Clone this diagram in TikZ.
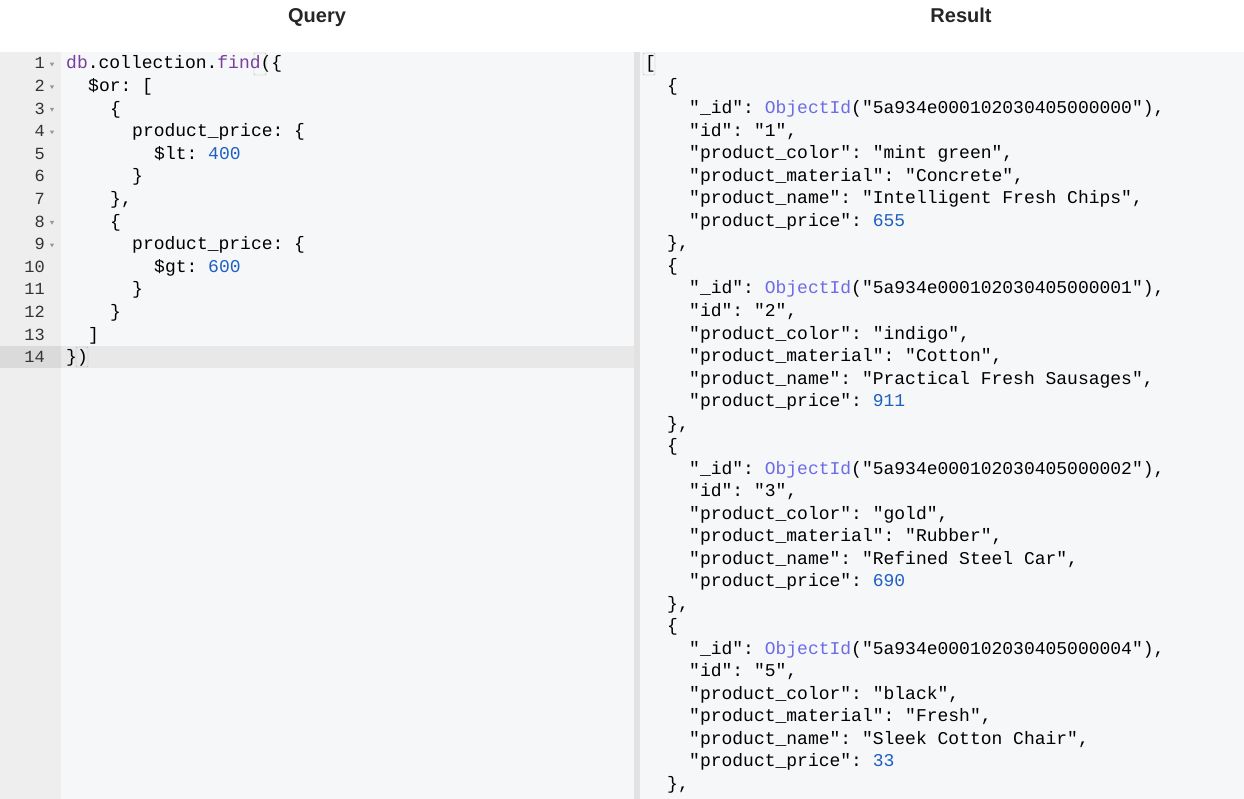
\documentclass[tikz,border=0pt]{standalone}
\usepackage{fontspec}
\usetikzlibrary{shapes.geometric}
\setmainfont{Liberation Sans}
\setmonofont{Liberation Mono}
\definecolor{edbg}{HTML}{F6F7F9}
\definecolor{gut}{HTML}{EEEEEE}
\definecolor{hl}{HTML}{E8E8E8}
\definecolor{hlg}{HTML}{DADADA}
\definecolor{sep}{HTML}{E2E2E2}
\definecolor{kw}{HTML}{7A3E9D}
\definecolor{num}{HTML}{1F5FBF}
\definecolor{oid}{HTML}{6C6CE6}
\definecolor{lno}{HTML}{333333}
\newcommand{\KWc}[1]{\textcolor{kw}{#1}}
\newcommand{\NUMc}[1]{\textcolor{num}{#1}}
\newcommand{\OIDc}{\textcolor{oid}{ObjectId}}
\begin{document}
\begin{tikzpicture}[x=1pt,y=-1pt,
  code/.style={anchor=base west,inner sep=0pt,font=\fontsize{18}{18}\ttfamily},
  lnum/.style={anchor=base east,inner sep=0pt,font=\fontsize{17}{17}\ttfamily,text=lno},
  fold/.style={regular polygon,regular polygon sides=3,shape border rotate=180,fill=gray!80,inner sep=0pt,minimum size=5pt},
  head/.style={anchor=base,inner sep=0pt,font=\fontsize{20}{20}\bfseries,text=black!85}]
\useasboundingbox (0,0) rectangle (1244,799);
\fill[white] (0,0) rectangle (1244,799);
\fill[edbg] (61,52) rectangle (634,799);
\fill[gut] (0,52) rectangle (61,799);
\fill[sep] (634,52) rectangle (640,799);
\fill[edbg] (640,52) rectangle (1244,799);
\fill[hl] (61,346) rectangle (634,368);
\fill[hlg] (0,346) rectangle (61,368);
\node[head] (hq) at (317,23) {Query};
\node[head] (hr) at (961,23) {Result};
\foreach \i in {1,...,14} {
  \node[lnum] (n\i) at (45,{69+(\i-1)*22.6}) {\i};
}
\foreach \i in {1,2,3,4,8,9} {
  \node[fold] (f\i) at (52,{64+(\i-1)*22.6}) {};
}
\def\cw{11}
\def\lh{22.6}
\node[code] (q1) at (66,69) {\KWc{db}.collection.\KWc{find}(\{};
\node[code] (q2) at (66+2*\cw,69+1*\lh) {\$or: [};
\node[code] (q3) at (66+4*\cw,69+2*\lh) {\{};
\node[code] (q4) at (66+6*\cw,69+3*\lh) {product\_price: \{};
\node[code] (q5) at (66+8*\cw,69+4*\lh) {\$lt: \NUMc{400}};
\node[code] (q6) at (66+6*\cw,69+5*\lh) {\}};
\node[code] (q7) at (66+4*\cw,69+6*\lh) {\},};
\node[code] (q8) at (66+4*\cw,69+7*\lh) {\{};
\node[code] (q9) at (66+6*\cw,69+8*\lh) {product\_price: \{};
\node[code] (q10) at (66+8*\cw,69+9*\lh) {\$gt: \NUMc{600}};
\node[code] (q11) at (66+6*\cw,69+10*\lh) {\}};
\node[code] (q12) at (66+4*\cw,69+11*\lh) {\}};
\node[code] (q13) at (66+2*\cw,69+12*\lh) {]};
\node[code] (q14) at (66,69+13*\lh) {\})};
\draw[gray!60,rounded corners=1pt] (254,53) rectangle (266,75);
\draw[gray!60,rounded corners=1pt] (76,347) rectangle (88,367);
\draw[gray!60,rounded corners=1pt] (643,53) rectangle (655,75);
\def\rh{22.5}
\node[code] (r0) at (645,69) {[};
\foreach \o/\id/\c/\m/\nm/\p [count=\k from 0] in {
  0/1/mint green/Concrete/Intelligent Fresh Chips/655,
  1/2/indigo/Cotton/Practical Fresh Sausages/911,
  2/3/gold/Rubber/Refined Steel Car/690,
  4/5/black/Fresh/Sleek Cotton Chair/33} {
  \pgfmathsetmacro\b{69+(1+8*\k)*\rh}
  \node[code] (ra\k) at (645+2*\cw,\b) {\{};
  \node[code] (rb\k) at (645+4*\cw,\b+\rh) {"\_id": \OIDc("5a934e00010203040500000\o"),};
  \node[code] (rc\k) at (645+4*\cw,\b+2*\rh) {"id": "\id",};
  \node[code] (rd\k) at (645+4*\cw,\b+3*\rh) {"product\_color": "\c",};
  \node[code] (re\k) at (645+4*\cw,\b+4*\rh) {"product\_material": "\m",};
  \node[code] (rf\k) at (645+4*\cw,\b+5*\rh) {"product\_name": "\nm",};
  \node[code] (rg\k) at (645+4*\cw,\b+6*\rh) {"product\_price": \NUMc{\p}};
  \node[code] (rh\k) at (645+2*\cw,\b+7*\rh) {\},};
}
\end{tikzpicture}
\end{document}
